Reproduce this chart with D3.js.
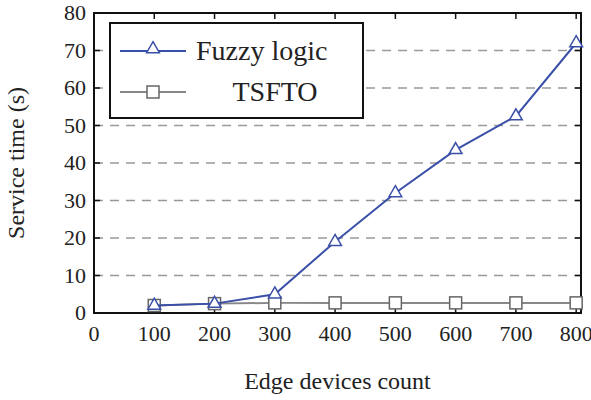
<!DOCTYPE html>
<html><head><meta charset="utf-8">
<script src="https://cdn.jsdelivr.net/npm/d3@7"></script>
<style>body{margin:0;background:#fff}</style>
</head><body><svg id="c" width="591" height="400" font-family="Liberation Serif, Times New Roman, serif" fill="#222"></svg>
<script>
var counts = [100, 200, 300, 400, 500, 600, 700, 800];
var fuzzy = [2, 2.5, 5, 19, 32, 43.5, 52.5, 72];
var tsfto = [2, 2.5, 2.7, 2.7, 2.7, 2.7, 2.7, 2.7];
var xTicks = [0, 100, 200, 300, 400, 500, 600, 700, 800];
var yTicks = [0, 10, 20, 30, 40, 50, 60, 70, 80];

var m = {l: 94, r: 10, t: 13, b: 87};
var w = 591 - m.l - m.r, h = 400 - m.t - m.b;
var svg = d3.select("#c");
var g = svg.append("g").attr("transform", "translate(" + m.l + "," + m.t + ")");

var x = d3.scaleLinear().domain([0, 808]).range([0, w]);
var y = d3.scaleLinear().domain([0, 80]).range([h, 0]);

// grid
g.selectAll(".grid").data(yTicks.slice(1, -1)).enter().append("line")
  .attr("x1", 0).attr("x2", w).attr("y1", y).attr("y2", y)
  .attr("stroke", "#999").attr("stroke-width", 1.5).attr("stroke-dasharray", "9,7");

g.append("rect").attr("width", w).attr("height", h)
  .attr("fill", "none").attr("stroke", "#111").attr("stroke-width", 2);

// ticks inside, both sides
xTicks.forEach(function(t) {
  g.append("line").attr("x1", x(t)).attr("x2", x(t)).attr("y1", h).attr("y2", h - 6).attr("stroke", "#111").attr("stroke-width", 1.5);
  g.append("line").attr("x1", x(t)).attr("x2", x(t)).attr("y1", 0).attr("y2", 6).attr("stroke", "#111").attr("stroke-width", 1.5);
  g.append("text").attr("x", x(t)).attr("y", h + 28).attr("text-anchor", "middle").attr("font-size", 22).text(t);
});
yTicks.forEach(function(t) {
  g.append("line").attr("x1", 0).attr("x2", 6).attr("y1", y(t)).attr("y2", y(t)).attr("stroke", "#111").attr("stroke-width", 1.5);
  g.append("line").attr("x1", w).attr("x2", w - 6).attr("y1", y(t)).attr("y2", y(t)).attr("stroke", "#111").attr("stroke-width", 1.5);
  g.append("text").attr("x", -8).attr("y", y(t) + 7).attr("text-anchor", "end").attr("font-size", 22).text(t);
});

g.append("text").attr("x", w / 2).attr("y", h + 76).attr("text-anchor", "middle").attr("font-size", 24).text("Edge devices count");
g.append("text").attr("transform", "translate(" + (-70) + "," + (h / 2) + ") rotate(-90)")
  .attr("text-anchor", "middle").attr("font-size", 24).text("Service time (s)");

var line = d3.line().x(function(d, i) { return x(counts[i]); }).y(function(d) { return y(d); });
var blue = "#3a4fa8", gray = "#888";

g.append("path").datum(tsfto).attr("d", line).attr("fill", "none").attr("stroke", gray).attr("stroke-width", 2);
g.selectAll(".sq").data(tsfto).enter().append("rect")
  .attr("x", function(d, i) { return x(counts[i]) - 6; }).attr("y", function(d) { return y(d) - 6; })
  .attr("width", 12).attr("height", 12).attr("fill", "#fff").attr("stroke", "#666").attr("stroke-width", 1.5);

g.append("path").datum(fuzzy).attr("d", line).attr("fill", "none").attr("stroke", blue).attr("stroke-width", 2);
var tri = d3.symbol().type(d3.symbolTriangle).size(70);
g.selectAll(".tr").data(fuzzy).enter().append("path")
  .attr("d", tri).attr("transform", function(d, i) { return "translate(" + x(counts[i]) + "," + y(d) + ")"; })
  .attr("fill", "#fff").attr("stroke", blue).attr("stroke-width", 1.5);

// legend
var lg = svg.append("g").attr("transform", "translate(110,23)");
lg.append("rect").attr("width", 253).attr("height", 95).attr("fill", "#fff").attr("stroke", "#111").attr("stroke-width", 2);
lg.append("line").attr("x1", 10).attr("x2", 76).attr("y1", 28).attr("y2", 28).attr("stroke", blue).attr("stroke-width", 2);
lg.append("path").attr("d", tri).attr("transform", "translate(43,26)").attr("fill", "#fff").attr("stroke", blue).attr("stroke-width", 1.5);
lg.append("text").attr("x", 86).attr("y", 37).attr("font-size", 28).text("Fuzzy logic");
lg.append("line").attr("x1", 10).attr("x2", 76).attr("y1", 69).attr("y2", 69).attr("stroke", gray).attr("stroke-width", 2);
lg.append("rect").attr("x", 37).attr("y", 63).attr("width", 12).attr("height", 12).attr("fill", "#fff").attr("stroke", "#666").attr("stroke-width", 1.5);
lg.append("text").attr("x", 165).attr("y", 78).attr("text-anchor", "middle").attr("font-size", 28).text("TSFTO");
</script></body></html>
